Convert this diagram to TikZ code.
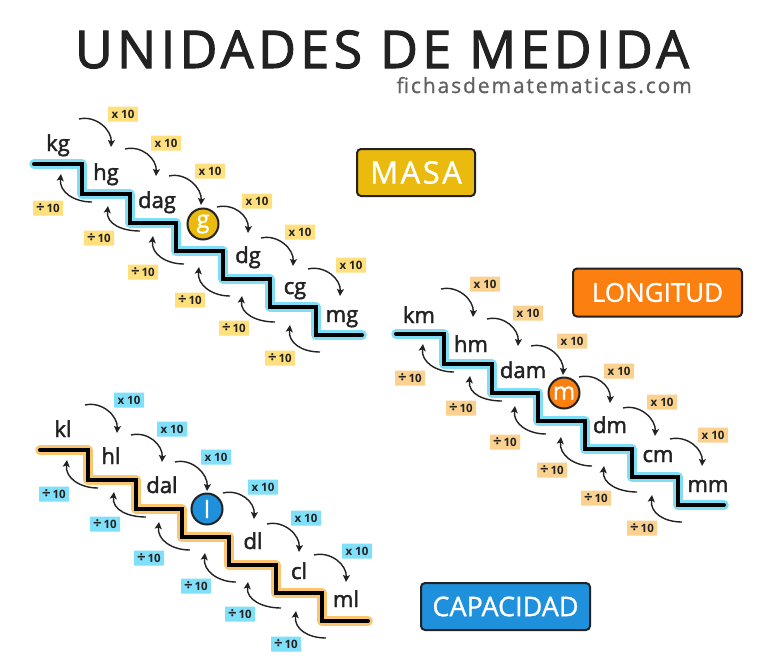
\documentclass[tikz,border=0pt]{standalone}
\usepackage{fontspec}
\setmainfont{Open Sans}
\usetikzlibrary{arrows.meta}
\newfontfamily\titlefont[LetterSpace=8.4,FakeBold=2]{Open Sans}
\newfontfamily\webfont[LetterSpace=9,FakeBold=1]{Open Sans}
\newfontfamily\unitfont[FakeBold=2]{Open Sans}
\newfontfamily\badgefont[FakeBold=1]{Open Sans}
\newfontfamily\masafont[LetterSpace=8,FakeBold=1]{Open Sans}
\definecolor{ink}{HTML}{222222}
\definecolor{glowcyan}{HTML}{7FDDF6}
\definecolor{gloworange}{HTML}{F9C56F}
\definecolor{chipyellow}{HTML}{FFE07C}
\definecolor{chiporange}{HTML}{FBD18F}
\definecolor{chipcyan}{HTML}{80E0F9}
\definecolor{yellowfill}{HTML}{EBBA0E}
\definecolor{orangefill}{HTML}{FB800F}
\definecolor{bluefill}{HTML}{1E90DC}
\tikzset{
  arr/.style={draw=ink,line width=1.4pt,-{Stealth[length=7pt,width=7pt,inset=1.5pt]}},
  chipbox/.style={rounded corners=0.5pt,inner sep=0pt,minimum width=30pt,minimum height=15pt,
    text=ink,font=\bfseries\fontsize{11.5}{11.5}\selectfont},
  unit/.style={anchor=base,inner sep=0pt,text=ink,font=\unitfont\fontsize{22}{22}\selectfont},
  disc/.style={circle,draw=ink,line width=2pt,minimum size=31pt,inner sep=0pt,text=white,
    font=\badgefont\fontsize{24}{24}\selectfont},
  badge/.style={draw=ink,line width=2pt,rounded corners=4pt,text=white,inner sep=0pt},
}
\newcommand{\divglyph}{{\fontsize{15}{15}\selectfont ÷}}
\newcommand{\stairset}[8]{%
  \begin{scope}[shift={#2},name prefix=#1-]
    \foreach \n/\x/\y in {0/34/164,1/82/164,2/82/194,3/130/194,4/130/223,5/176/223,6/176/251,7/223/251,
        8/223/279,9/270/279,10/270/307,11/316/307,12/316/335,13/362/335}
      {\coordinate (p\n) at (\x,\y);}
    \draw[#3,line width=9.5pt,line join=round,line cap=round]
      (p0)--(p1)--(p2)--(p3)--(p4)--(p5)--(p6)--(p7)--(p8)--(p9)--(p10)--(p11)--(p12)--(p13);
    \draw[black,line width=4pt,line join=miter,line cap=round]
      (p0)--(p1)--(p2)--(p3)--(p4)--(p5)--(p6)--(p7)--(p8)--(p9)--(p10)--(p11)--(p12)--(p13);
    \foreach \i/\sx/\sy/\ex/\ey/\lx/\ly in {1/79/119/111/147/123/114,2/125/149/156/176/166/143,
        3/169/176/201/205/210/171,4/217/207/248/233/257/201,5/261/238/293/266/300/232,6/308/269/340/296/351/265}
      {\coordinate (ts\i) at (\sx,\sy); \coordinate (te\i) at (\ex,\ey);
       \draw[arr] (ts\i) .. controls +(17,-4) and +(1,-17) .. (te\i);
       \node[chipbox,fill=#4] (tl\i) at (\lx,\ly) {x 10};}
    \foreach \i/\sx/\sy/\ex/\ey/\lx/\ly in {1/92/202/61/174/48/208,2/140/231/108/206/99/238,
        3/184/264/153/236/143/272,4/230/296/199/267/190/300,5/275/322/242/296/234/328,6/320/352/290/325/280/358}
      {\coordinate (bs\i) at (\sx,\sy); \coordinate (be\i) at (\ex,\ey);
       \draw[arr] (bs\i) .. controls +(-18,0) and +(-2,18) .. (be\i);
       \node[chipbox,fill=#4] (bl\i) at (\lx,\ly) {\divglyph\,10};}
    \node[disc,fill=#5] (center) at #7 {#6};
    \foreach \t/\x/\y in {#8} {\node[unit] (u\t) at (\x,\y) {\t};}
  \end{scope}%
}
\begin{document}
\begin{tikzpicture}[x=1pt,y=-1pt]
\useasboundingbox (0,0) rectangle (768,667);
\fill[white] (0,0) rectangle (768,667);
\node[anchor=base,inner sep=0pt,text=ink,font=\titlefont\fontsize{52}{52}\selectfont] (title) at (382,68) {UNIDADES DE MEDIDA};
\node[anchor=base east,inner sep=0pt,text=black!62,font=\webfont\fontsize{21}{21}\selectfont] (web) at (692,93) {fichasdematematicas.com};
\stairset{masa}{(0,0)}{glowcyan}{chipyellow}{yellowfill}{g}{(203,224)}{kg/58/151,hg/106/180,dag/157/208,dg/248/263,cg/295/294,mg/342/322}
\stairset{long}{(362,170)}{glowcyan}{chiporange}{orangefill}{m}{(202,223)}{km/57/153,hm/109/182,dam/161/208,dm/248/263,cm/296/292,mm/346/322}
\stairset{cap}{(6,286)}{gloworange}{chipcyan}{bluefill}{l}{(201,223)}{kl/57/151,hl/105/178,dal/156/207,dl/247/263,cl/293/293,ml/340/321}
\node[badge,fill=yellowfill,minimum width=118pt,minimum height=47pt,font=\masafont\fontsize{31}{31}\selectfont] (masa) at (416,172.5) {MASA};
\node[badge,fill=orangefill,minimum width=169pt,minimum height=48pt,font=\badgefont\fontsize{26}{26}\selectfont] (longitud) at (657.5,292.5) {LONGITUD};
\node[badge,fill=bluefill,minimum width=169pt,minimum height=47pt,font=\badgefont\fontsize{27}{27}\selectfont] (capacidad) at (505.5,606.5) {CAPACIDAD};
\end{tikzpicture}
\end{document}
